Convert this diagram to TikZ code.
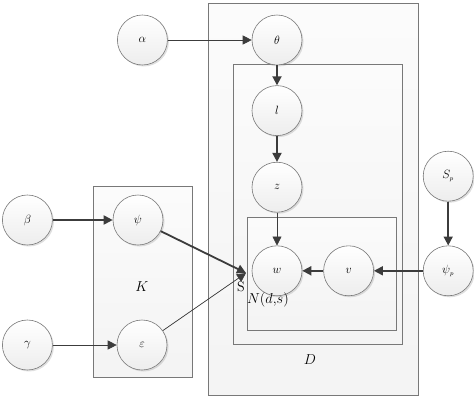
\documentclass[tikz,border=0pt]{standalone}
\usepackage{amsmath,amssymb}
\usepackage{tikz}
\usetikzlibrary{positioning,arrows.meta,shadows}
\usepackage{xcolor}
\definecolor{edge}{RGB}{60,60,60}
\definecolor{rim}{RGB}{120,120,120}

\begin{document}
\begin{tikzpicture}[x=1pt,y=-1pt,>={Triangle[length=9pt,width=9pt]},
  var/.style={circle,draw=rim,line width=0.6pt,minimum size=50pt,inner sep=0pt,
    top color=white,bottom color=gray!14,drop shadow={opacity=0.25,shadow xshift=1.5pt,shadow yshift=-1.5pt},
    font=\fontsize{13}{15}\selectfont},
  plate/.style={draw=rim,line width=1pt,top color=gray!3,bottom color=gray!9},
  lite/.style={->,draw=edge,fill=edge,line width=0.7pt},
  bold/.style={->,draw=edge,fill=edge,line width=1.8pt}]
\useasboundingbox (0,0) rectangle (474,400);
% plates
\draw[plate] (208,3) rectangle (418,395);
\draw[plate] (233,64) rectangle (402,344);
\draw[plate] (247,217) rectangle (396,330);
\draw[plate] (93,186) rectangle (192,377);
% variables
\node[var] (theta) at (277,40) {$\theta$};
\node[var] (l) [below=20pt of theta] {$l$};
\node[var] (z) [below=26pt of l] {$z$};
\node[var] (w) [below=33pt of z] {$w$};
\node[var] (v) [right=21pt of w] {$v$};
\node[var] (psip) [right=49pt of v] {$\psi_{\scriptscriptstyle p}$};
\node[var] (sp) [above=44pt of psip] {$S_{\scriptscriptstyle p}$};
\node[var] (alpha) [left=84pt of theta] {$\alpha$};
\node[var] (psi) at (138,220) {$\psi$};
\node[var] (beta) [left=60pt of psi] {$\beta$};
\node[var] (eps) at (142,345) {$\varepsilon$};
\node[var] (gamma) [left=64pt of eps] {$\gamma$};
% labels
\node[font=\fontsize{14}{16}\selectfont] (klab) at (142,287) {$K$};
\node[font=\fontsize{14}{16}\selectfont] (dlab) at (310,360) {$D$};
\node[font=\fontsize{14}{16}\selectfont] (nlab) at (268,300) {$N(d{,}s)$};
\node[font=\fontsize{14}{16}\selectfont] (slab) at (241,287) {S};
\coordinate (sin) at (246,273);
% edges
\draw[lite] (alpha) -- (theta);
\draw[bold] (theta) -- (l);
\draw[bold] (l) -- (z);
\draw[lite] (z) -- (w);
\draw[bold] (v) -- (w);
\draw[bold] (psip) -- (v);
\draw[bold] (sp) -- (psip);
\draw[bold] (beta) -- (psi);
\draw[lite] (gamma) -- (eps);
\draw[bold] (psi) -- (sin);
\draw[lite] (eps) -- (sin);
\end{tikzpicture}
\end{document}
